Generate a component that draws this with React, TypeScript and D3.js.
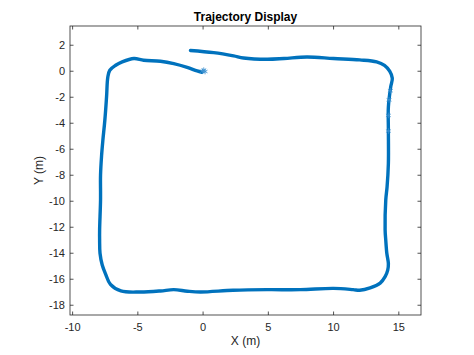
import { useEffect, useRef } from "react";
import * as d3 from "d3";

// trajectory samples (metres)
const trajX = [
  -0.97, 0.81, 2.34, 3.1, 4.9, 6.2, 7.96, 10.0, 12.0, 13.3, 13.9, 14.3, 14.5,
  14.38, 14.2, 14.2, 14.2, 14.1, 14.0, 13.95, 14.0, 14.08, 14.2, 14.15, 13.95, 13.57, 12.8, 12.0,
  11.5, 10.0, 7.45, 4.9, 2.3, -0.2, -1.2, -2.25, -3.27, -4.8, -6.3, -7.1, -7.47, -7.73, -7.9, -7.93,
  -7.93, -7.86, -7.86, -7.78, -7.68, -7.53, -7.4, -7.3, -7.15, -6.7, -6.2, -5.3, -4.55, -3.27, -2.25,
  -1.22, -0.46, -0.08,
];
const trajY = [
  1.6, 1.43, 1.18, 1.02, 0.92, 0.98, 1.1, 0.98, 0.87, 0.72, 0.45, 0.0, -0.54,
  -1.2, -2.75, -4.54, -7.1, -8.9, -9.9, -12.2, -13.0, -14.0, -14.8, -15.3, -15.8, -16.3, -16.67, -16.85,
  -16.8, -16.7, -16.8, -16.8, -16.85, -16.98, -16.92, -16.8, -16.9, -16.98, -16.9, -16.4, -15.6, -14.9, -14.0, -13.0,
  -12.2, -9.9, -8.0, -6.5, -5.3, -3.77, -2.0, -0.44, 0.08, 0.46, 0.72, 0.98, 0.85, 0.77, 0.59,
  0.3, 0.02, -0.08,
];
// a few visible star markers
const markX = [0.05, 0.15, -0.05, 14.35, 14.25, 14.2, 14.2];
const markY = [0.08, -0.02, 0.0, -1.5, -2.2, -3.4, -4.6];

const xTicks = [-10, -5, 0, 5, 10, 15];
const yTicks = [2, 0, -2, -4, -6, -8, -10, -12, -14, -16, -18];

const W = 474;
const H = 355;
const font = "Arial, 'Liberation Sans', Helvetica, sans-serif";

export default function App() {
  const svgRef = useRef<SVGSVGElement | null>(null);

  useEffect(() => {
    const svg = d3.select(svgRef.current!);
    svg.selectAll("*").remove();

    const left = 70, right = 421, top = 26, bottom = 315;
    const x = d3.scaleLinear().domain([-10.2, 16.7]).range([left, right]);
    const y = d3.scaleLinear().domain([-18.75, 3.48]).range([bottom, top]);
    const axisColor = "#262626";
    const tl = 3.5;

    svg.append("rect").attr("width", W).attr("height", H).attr("fill", "#fff");

    // trajectory
    const pts = trajX.map((v, i) => [v, trajY[i]] as [number, number]);
    const line = d3.line<[number, number]>()
      .x(d => x(d[0]))
      .y(d => y(d[1]))
      .curve(d3.curveCatmullRom.alpha(0.5));
    svg.append("path")
      .attr("d", line(pts)!)
      .attr("fill", "none")
      .attr("stroke", "#0072BD")
      .attr("stroke-width", 3.4)
      .attr("stroke-linejoin", "round")
      .attr("stroke-linecap", "round");

    const star = d3.symbol().type(d3.symbolAsterisk).size(22);
    svg.selectAll("path.mk")
      .data(markX.map((v, i) => [v, markY[i]]))
      .join("path")
      .attr("class", "mk")
      .attr("d", star()!)
      .attr("transform", d => `translate(${x(d[0])},${y(d[1])})`)
      .attr("fill", "none")
      .attr("stroke", "#3a8fcf")
      .attr("stroke-width", 0.8);

    // box
    svg.append("rect")
      .attr("x", left).attr("y", top)
      .attr("width", right - left).attr("height", bottom - top)
      .attr("fill", "none").attr("stroke", axisColor).attr("stroke-width", 0.8);

    const g = svg.append("g").attr("stroke", axisColor).attr("stroke-width", 0.8);
    xTicks.forEach(t => {
      g.append("line").attr("x1", x(t)).attr("x2", x(t)).attr("y1", bottom).attr("y2", bottom - tl);
      g.append("line").attr("x1", x(t)).attr("x2", x(t)).attr("y1", top).attr("y2", top + tl);
    });
    yTicks.forEach(t => {
      g.append("line").attr("x1", left).attr("x2", left + tl).attr("y1", y(t)).attr("y2", y(t));
      g.append("line").attr("x1", right).attr("x2", right - tl).attr("y1", y(t)).attr("y2", y(t));
    });

    svg.selectAll("text.xt")
      .data(xTicks)
      .join("text")
      .attr("class", "xt")
      .attr("x", d => x(d))
      .attr("y", bottom + 16)
      .attr("text-anchor", "middle")
      .attr("font-family", font)
      .attr("font-size", 11)
      .attr("fill", axisColor)
      .text(d => String(d));

    svg.selectAll("text.yt")
      .data(yTicks)
      .join("text")
      .attr("class", "yt")
      .attr("x", left - 5)
      .attr("y", d => y(d))
      .attr("dy", "0.35em")
      .attr("text-anchor", "end")
      .attr("font-family", font)
      .attr("font-size", 11)
      .attr("fill", axisColor)
      .text(d => String(d));

    svg.append("text")
      .attr("x", (left + right) / 2)
      .attr("y", 21)
      .attr("text-anchor", "middle")
      .attr("font-family", font)
      .attr("font-size", 12)
      .attr("font-weight", "bold")
      .attr("fill", "#000")
      .text("Trajectory Display");

    svg.append("text")
      .attr("x", (left + right) / 2)
      .attr("y", 345)
      .attr("text-anchor", "middle")
      .attr("font-family", font)
      .attr("font-size", 12)
      .attr("fill", axisColor)
      .text("X (m)");

    svg.append("text")
      .attr("transform", `translate(43,${(top + bottom) / 2}) rotate(-90)`)
      .attr("text-anchor", "middle")
      .attr("font-family", font)
      .attr("font-size", 12)
      .attr("fill", axisColor)
      .text("Y (m)");
  }, []);

  return (
    <svg
      ref={svgRef}
      width={W}
      height={H}
      style={{ position: "absolute", left: 0, top: 0 }}
    />
  );
}
